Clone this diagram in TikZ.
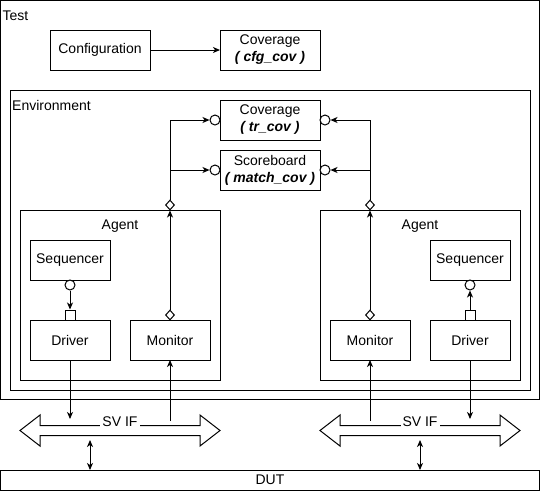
\documentclass[tikz,border=0pt]{standalone}
\usepackage{fontspec}
\setmainfont{Liberation Sans}
\usetikzlibrary{arrows.meta,shapes.geometric}
\begin{document}
\begin{tikzpicture}[x=1pt, y=-1pt,
		box/.style={draw, line width=1pt, minimum width=100pt, minimum height=40pt, inner sep=0pt, outer sep=0pt, align=center, font=\fontsize{14}{17}\selectfont},
		frame/.style={draw, line width=1pt, inner sep=0pt, outer sep=0pt},
		lbl/.style={font=\fontsize{14}{17}\selectfont, inner sep=0pt},
		conn/.style={line width=1pt, -{Stealth[length=7pt, width=6pt, inset=2pt]}},
		circ/.style={draw, circle, line width=1pt, fill=white, minimum size=10pt, inner sep=0pt},
		dmd/.style={draw, diamond, line width=1pt, fill=white, minimum width=9pt, minimum height=10pt, inner sep=0pt},
		sqr/.style={draw, rectangle, line width=1pt, fill=white, minimum size=10pt, inner sep=0pt}]
		\useasboundingbox (0,0) rectangle (541,491);
		% Test and environment frames
		\node [frame, minimum width=539pt, minimum height=399pt] (test) at (270,200) {};
		\node [lbl, anchor=base west] at (2.5,20.5) {Test};
		\node [frame, minimum width=520pt, minimum height=300pt] (env) at (270,240) {};
		\node [lbl, anchor=base west] at (12,110.5) {Environment};
		% Configuration and coverage
		\node [box] (cfg) at (100,50) {Configuration};
		\node [box] (cfgcov) at (270,50) {Coverage\\\textbf{\textit{( cfg\_cov )}}};
		\node [box] (trcov) at (270,120) {Coverage\\\textbf{\textit{( tr\_cov )}}};
		\node [box] (sb) at (270,170) {Scoreboard\\\textbf{\textit{( match\_cov )}}};
		\draw [conn] (cfg.east) -- (cfgcov.west);
		\node [circ] (trL) at (215,120) {};
		\node [circ] (trR) at (325,120) {};
		\node [circ] (sbL) at (215,170) {};
		\node [circ] (sbR) at (325,170) {};
		% DUT
		\node [box, minimum width=539pt, minimum height=20pt] (dut) at (270,480) {DUT};
		% Agents and interfaces
		\foreach \s/\ax/\dx/\mx/\bx in {L/120/70/170/90, R/420/470/370/420} {
			\node [frame, minimum width=200pt, minimum height=170pt] (agent\s) at (\ax,295) {};
			\node [lbl, anchor=base] at (\ax,229.5) {Agent};
			\node [box, minimum width=80pt] (seq\s) at (\dx,260) {Sequencer};
			\node [box, minimum width=80pt] (drv\s) at (\dx,340) {Driver};
			\node [box, minimum width=80pt] (mon\s) at (\mx,340) {Monitor};
			\node [circ] (port\s) at (\dx,285) {};
			\node [sqr] (sq\s) at (\dx,315) {};
			\node [dmd] (md\s) at (\mx,315) {};
			\node [dmd] (td\s) at (\mx,205) {};
			\draw [conn] (md\s.north) -- (td\s.south);
			\draw [conn] (td\s.north) |- (tr\s);
			\draw [conn] (td\s.north) |- (sb\s);
			% SV IF arrow
			\draw [line width=1pt, line join=miter] ({\ax-100},430.5) -- ({\ax-80},415) -- ({\ax-80},425.5) -- ({\ax+80},425.5) -- ({\ax+80},415) -- ({\ax+100},430.5)
				-- ({\ax+80},446) -- ({\ax+80},435.5) -- ({\ax-80},435.5) -- ({\ax-80},446) -- cycle;
			\node [lbl, anchor=base, fill=white, inner xsep=2pt, inner ysep=2pt] (svif\s) at (\ax,426) {SV IF};
			\coordinate (in\s) at (\dx,419);
			\coordinate (out\s) at (\mx,421);
			\coordinate (bus\s) at (\bx,440);
			\draw [conn] (drv\s.south) -- (in\s);
			\draw [conn] (out\s) -- (mon\s.south);
			\draw [line width=1pt, {Stealth[length=7pt, width=6pt, inset=2pt]}-{Stealth[length=7pt, width=6pt, inset=2pt]}] (bus\s) -- (bus\s |- dut.north);
		}
		% Sequencer ports
		\draw [conn] (portL.south) -- (sqL.north);
		\draw [conn] (sqR.north) -- (portR.south);
	\end{tikzpicture}
\end{document}
